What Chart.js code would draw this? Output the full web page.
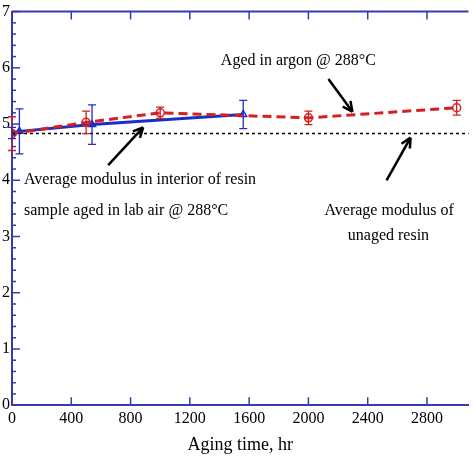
<!DOCTYPE html><html><head><script src="https://cdn.jsdelivr.net/npm/chart.js@4"></script>
<style>body{margin:0;background:#fff}#w{width:474px;height:474px}</style></head><body><div id="w"><canvas id="c"></canvas></div>
<script>
const argonX=[0,500,1000,2000,3000];
const argonY=[4.83,5.03,5.2,5.11,5.29];
const argonErr=[0.3,0.2,0.1,0.12,0.13];
const airX=[0,50,540,1560];
const airY=[4.84,4.87,4.99,5.17];
const airErr=[0.1,0.4,0.35,0.25];
const unagedY=4.83;
const xTicks=[0,400,800,1200,1600,2000,2400,2800];
const texts=[["Aged in argon @ 288°C",1932,6.12,"center"],["Average modulus in interior of resin",81,4.0,"left"],["sample aged in lab air @ 288°C",81,3.46,"left"],["Average modulus of",2108,3.46,"left"],["unaged resin",2540,3.02,"center"]];
const arrows=[[2135,5.8,2297,5.22],[649,4.27,885,4.94],[2527,4.0,2689,4.76]];
const AX='#3a3aa8';
const extra={id:'extra',afterDatasetsDraw(ch){const c=ch.ctx,x=ch.scales.x,y=ch.scales.y,a=ch.chartArea;c.save();
c.lineWidth=1.3;
[[argonX,argonY,argonErr,'#d42020'],[airX,airY,airErr,'#2030c0']].forEach(([X,Y,E,col])=>{c.strokeStyle=col;X.forEach((v,i)=>{const px=x.getPixelForValue(v),t=y.getPixelForValue(Y[i]+E[i]),b=y.getPixelForValue(Y[i]-E[i]);c.beginPath();c.moveTo(px,t);c.lineTo(px,b);c.moveTo(px-4,t);c.lineTo(px+4,t);c.moveTo(px-4,b);c.lineTo(px+4,b);c.stroke();});});
c.strokeStyle=AX;c.lineWidth=1.5;
for(let v=0;v<=7.001;v+=0.2){const py=y.getPixelForValue(v),L=Math.abs(v-Math.round(v))<0.01?8:4;c.beginPath();c.moveTo(a.left,py);c.lineTo(a.left+L,py);c.stroke();}
xTicks.forEach(v=>{const px=x.getPixelForValue(v);c.beginPath();c.moveTo(px,a.bottom);c.lineTo(px,a.bottom-8);c.moveTo(px,a.top);c.lineTo(px,a.top+8);c.stroke();});
c.lineWidth=2;c.beginPath();c.moveTo(a.left,a.top);c.lineTo(a.right,a.top);c.stroke();
c.fillStyle='#000';c.font='16px "Liberation Serif"';c.textBaseline='middle';
texts.forEach(([s,vx,vy,al])=>{c.textAlign=al;c.fillText(s,x.getPixelForValue(vx),y.getPixelForValue(vy));});
c.strokeStyle='#000';c.lineWidth=2.5;
arrows.forEach(([x1,y1,x2,y2])=>{const p1=[x.getPixelForValue(x1),y.getPixelForValue(y1)],p2=[x.getPixelForValue(x2),y.getPixelForValue(y2)];const ang=Math.atan2(p2[1]-p1[1],p2[0]-p1[0]);c.beginPath();c.moveTo(...p1);c.lineTo(...p2);c.stroke();c.beginPath();c.moveTo(...p2);c.lineTo(p2[0]-11*Math.cos(ang-0.45),p2[1]-11*Math.sin(ang-0.45));c.moveTo(...p2);c.lineTo(p2[0]-11*Math.cos(ang+0.45),p2[1]-11*Math.sin(ang+0.45));c.stroke();});
c.restore();}};
new Chart(document.getElementById('c'),{type:'scatter',data:{datasets:[
{data:[{x:0,y:unagedY},{x:3100,y:unagedY}],showLine:true,tension:0,borderColor:'#000',borderWidth:1.5,borderDash:[3,3],pointRadius:0},
{data:argonX.map((v,i)=>({x:v,y:argonY[i]})),showLine:true,tension:0,borderColor:'#d42020',borderWidth:3,borderDash:[9,5],pointStyle:'circle',pointRadius:4,pointBorderColor:'#d42020',pointBackgroundColor:'rgba(0,0,0,0)',pointBorderWidth:1.5},
{data:airX.map((v,i)=>({x:v,y:airY[i]})),showLine:true,tension:0,borderColor:'#1a2ec8',borderWidth:3,pointStyle:'triangle',pointRadius:4,pointBorderColor:'#1a2ec8',pointBackgroundColor:'rgba(0,0,0,0)',pointBorderWidth:1.5}]},
options:{responsive:true,maintainAspectRatio:false,animation:false,layout:{padding:{left:0,top:10,right:-10,bottom:14}},
plugins:{legend:{display:false},tooltip:{enabled:false}},
scales:{x:{type:'linear',min:0,max:3080,afterBuildTicks(s){s.ticks=xTicks.map(v=>({value:v}));},grid:{display:false,drawTicks:false},border:{color:AX,width:2},ticks:{color:'#000',font:{family:'Liberation Serif',size:16},padding:4,callback:v=>String(v)},title:{display:true,text:'Aging time, hr',color:'#000',font:{family:'Liberation Serif',size:18},padding:{top:2}}},
y:{min:0,max:7,grid:{display:false,drawTicks:false},border:{color:AX,width:2},ticks:{stepSize:1,color:'#000',font:{family:'Liberation Serif',size:16},padding:2}}}},plugins:[extra]});
</script></body></html>
